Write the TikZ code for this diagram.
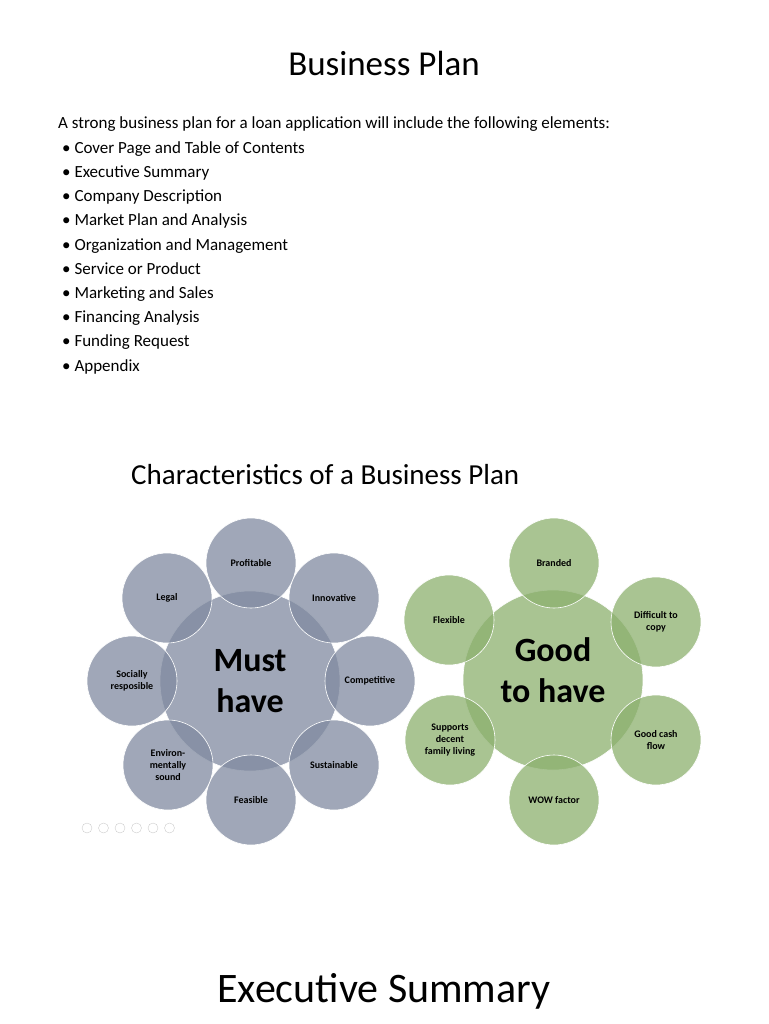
\documentclass[tikz,border=0pt]{standalone}
\usepackage{fontspec}
\setmainfont{Carlito}
\begin{document}
\begin{tikzpicture}[x=1pt,y=-1pt,
  grey/.style={circle,fill={rgb,255:red,128;green,138;blue,160},fill opacity=0.75,draw=white,line width=0.6pt,text opacity=1,inner sep=0pt,align=center,font=\bfseries\fontsize{10}{12}\selectfont},
  green/.style={circle,fill={rgb,255:red,140;green,176;blue,110},fill opacity=0.75,draw=white,line width=0.6pt,text opacity=1,inner sep=0pt,align=center,font=\bfseries\fontsize{10}{12}\selectfont},
  body/.style={anchor=base west,inner sep=0pt,font=\fontsize{17}{20}\selectfont},
  nav/.style={circle,draw=black!20,minimum size=10pt,inner sep=0pt}]
\useasboundingbox (0,0) rectangle (768,1024);
\node[anchor=base,font=\fontsize{35}{40}\selectfont] (t1) at (384,76) {Business Plan};
\node[body] (b0) at (58,129) {A strong business plan for a loan application will include the following elements:};
\foreach \t [count=\i] in {Cover Page and Table of Contents,Executive Summary,Company Description,Market Plan and Analysis,Organization and Management,Service or Product,Marketing and Sales,Financing Analysis,Funding Request,Appendix}
  \node[body] (b\i) at (62,129+24.2*\i) {\textbullet\ \t};
\node[anchor=base west,inner sep=0pt,font=\fontsize{29}{34}\selectfont] (t2) at (131,484) {Characteristics of a Business Plan};
% Must have
\node[grey,minimum size=180pt] (m) at (250,681) {};
\node[grey,minimum size=90pt] (m1) at (251,563) {Profitable};
\node[grey,minimum size=90pt] (m2) at (334,598) {Innovative};
\node[grey,minimum size=90pt] (m3) at (370,681) {Competitive};
\node[grey,minimum size=90pt] (m4) at (334,765) {Sustainable};
\node[grey,minimum size=90pt] (m5) at (251,800) {Feasible};
\node[grey,minimum size=90pt] (m6) at (168,765) {Environ-\\mentally\\sound};
\node[grey,minimum size=90pt] (m7) at (132,681) {Socially\\resposible};
\node[grey,minimum size=90pt] (m8) at (167,598) {Legal};
\node[font=\bfseries\fontsize{34}{41}\selectfont,align=center] (mt) at (250,681) {Must\\have};
% Good to have
\node[green,minimum size=180pt] (g) at (553,680) {};
\node[green,minimum size=90pt] (g1) at (554,563) {Branded};
\node[green,minimum size=90pt] (g2) at (656,622) {Difficult to\\copy};
\node[green,minimum size=90pt] (g3) at (656,740) {Good cash\\flow};
\node[green,minimum size=90pt] (g4) at (554,800) {WOW factor};
\node[green,minimum size=90pt] (g5) at (450,740) {Supports\\decent\\family living};
\node[green,minimum size=90pt] (g6) at (449,620) {Flexible};
\node[font=\bfseries\fontsize{34}{41}\selectfont,align=center] (gt) at (553,670) {Good\\to have};
\foreach \i in {0,...,5} \node[nav] (n\i) at (87+16.5*\i,828) {};
\node[anchor=base,font=\fontsize{42}{48}\selectfont] (t3) at (384,1002) {Executive Summary};
\end{tikzpicture}
\end{document}
